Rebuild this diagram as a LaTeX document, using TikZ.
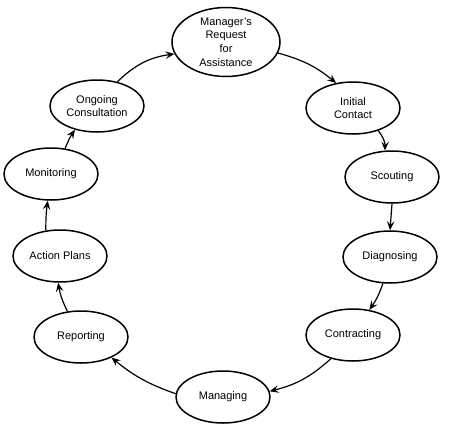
\documentclass[tikz,border=0pt]{standalone}
\usepackage{fontspec}
\setmainfont{Liberation Sans}
\usetikzlibrary{shapes.geometric,arrows.meta}
\begin{document}
\begin{tikzpicture}[
  x=1pt,
  y=-1pt,
  font=\fontsize{11}{13.7}\selectfont,
  stage/.style={
    draw,
    ellipse,
    line width=1.5pt,
    align=center,
    inner sep=0pt,
    minimum width=94pt,
    minimum height=52pt
  },
  arrow/.style={-{Stealth[length=9pt,width=7.5pt,inset=3.5pt]}, line width=1.2pt}
]
\useasboundingbox (0,0) rectangle (450,429);

\node[stage, minimum width=108pt, minimum height=69pt] (request) at (226,42) {Manager's\\Request\\for\\Assistance};
\node[stage] (contact) at (353,108) {Initial\\Contact};
\node[stage] (scouting) at (392,177) {Scouting};
\node[stage] (diagnosing) at (390,257) {Diagnosing};
\node[stage] (contracting) at (353,335) {Contracting};
\node[stage] (managing) at (223,397) {Managing};
\node[stage] (reporting) at (81,337) {Reporting};
\node[stage] (plans) at (60,256) {Action Plans};
\node[stage] (monitoring) at (51,174) {Monitoring};
\node[stage] (ongoing) at (97,106) {Ongoing\\Consultation};

\draw[arrow] (ongoing.50) to[bend left=18] (request.193);
\draw[arrow] (request.348) to[bend left=12] (contact.124);
\draw[arrow] (contact.318) to[bend left=20] (scouting.105);
\draw[arrow] (scouting.south) -- (diagnosing.north);
\draw[arrow] (diagnosing.255) to[bend left=8] (contracting.57);
\draw[arrow] (contracting.227) to[bend left=14] (managing.7);
\draw[arrow] (managing.176) to[bend left=10] (reporting.326);
\draw[arrow] (reporting.118) to[bend left=8] (plans.266);
\draw[arrow] (plans.119) to[bend left=4] (monitoring.263);
\draw[arrow] (monitoring.61) to[bend left=6] (ongoing.227);
\end{tikzpicture}
\end{document}
